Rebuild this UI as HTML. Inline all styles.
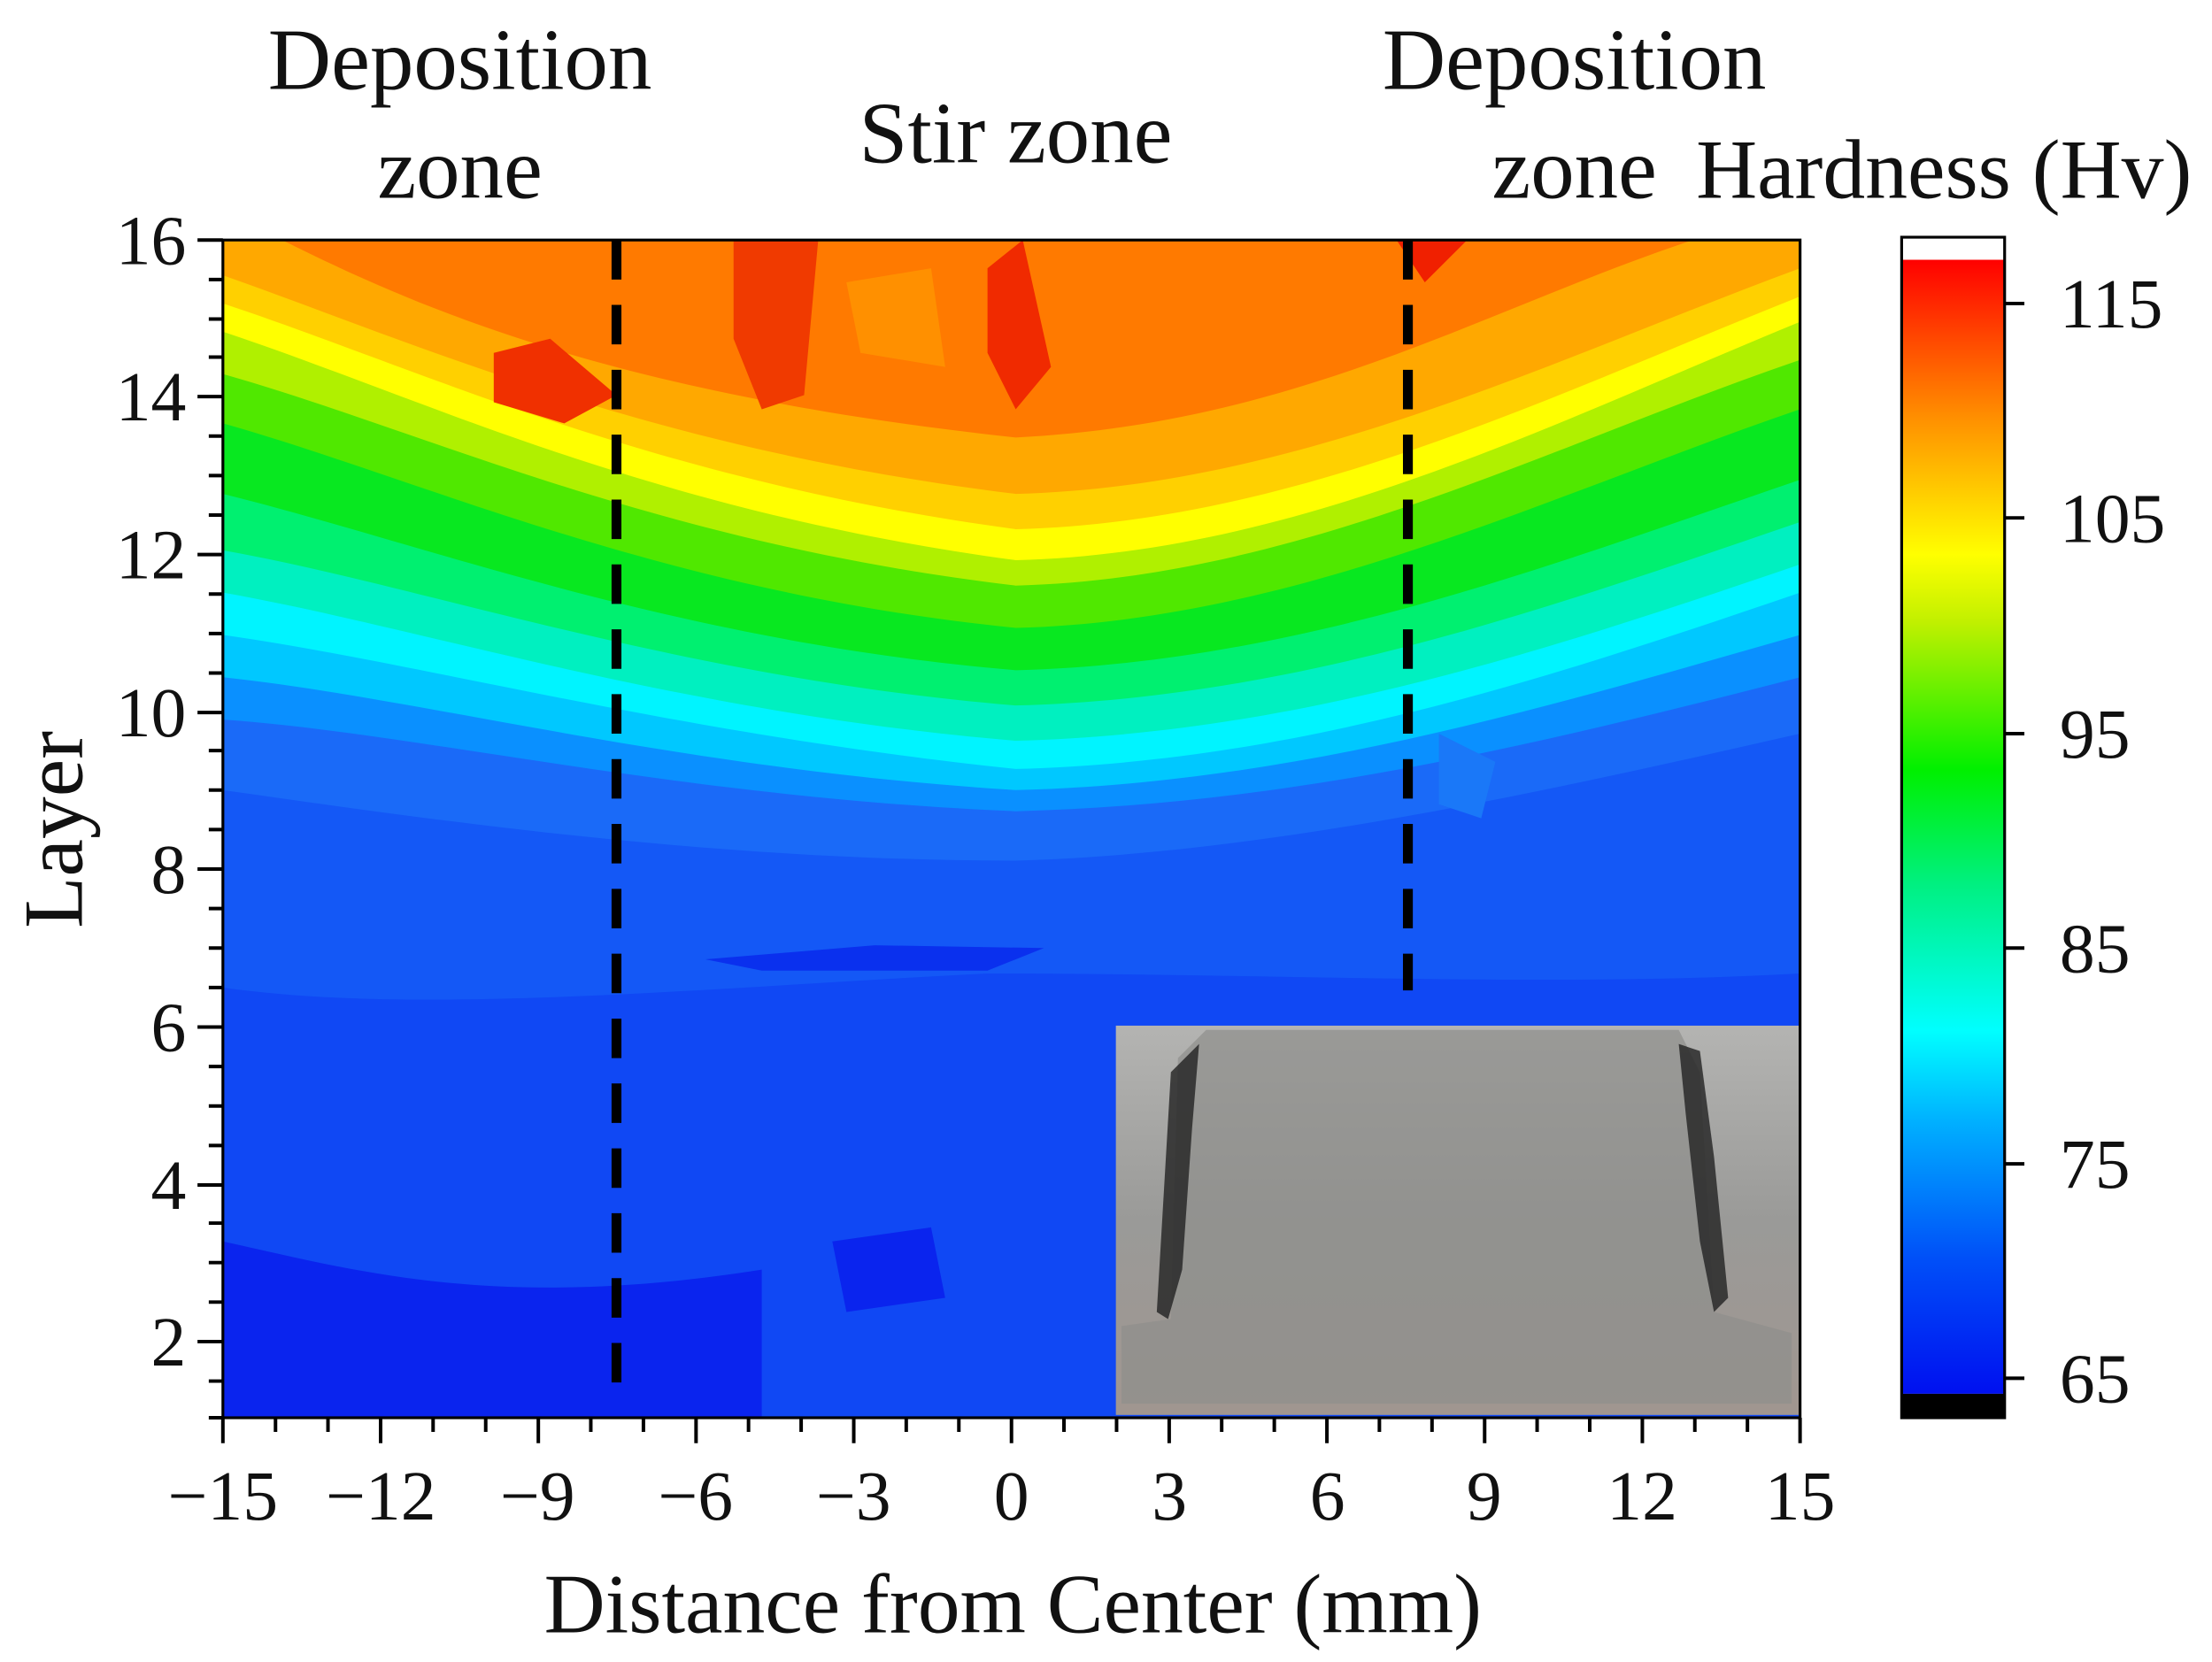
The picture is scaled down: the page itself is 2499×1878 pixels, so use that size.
<!DOCTYPE html>
<html><head><meta charset="utf-8"><style>html,body{margin:0;padding:0;background:#fff}svg{display:block}text{font-family:"Liberation Serif",serif;fill:#111}</style></head>
<body>
<svg width="2499" height="1878" viewBox="0 0 1568 1178" xmlns="http://www.w3.org/2000/svg">
<defs>
<clipPath id="pc"><rect x="158" y="170" width="1118" height="835"/></clipPath>
<linearGradient id="cb" x1="0" y1="1" x2="0" y2="0">
<stop offset="0" stop-color="#0010f0"/>
<stop offset="0.12" stop-color="#0050f8"/>
<stop offset="0.24" stop-color="#00b0ff"/>
<stop offset="0.32" stop-color="#00ffff"/>
<stop offset="0.45" stop-color="#00f080"/>
<stop offset="0.55" stop-color="#00f000"/>
<stop offset="0.68" stop-color="#c0f000"/>
<stop offset="0.74" stop-color="#ffff00"/>
<stop offset="0.86" stop-color="#ff9000"/>
<stop offset="1" stop-color="#ff0000"/>
</linearGradient>
<linearGradient id="ph" x1="0" y1="0" x2="0" y2="1">
<stop offset="0" stop-color="#b4b4b2"/><stop offset="0.5" stop-color="#9a9a98"/><stop offset="1" stop-color="#a09690"/>
</linearGradient>
</defs>
<g clip-path="url(#pc)">
<rect x="158" y="170" width="1118" height="835" fill="#1048f4"/>
<path d="M158,880 C250,900 350,930 540,900 L540,1005 L158,1005 Z" fill="#0a24ee"/>
<path d="M158,700 C300,720 500,700 700,690 C900,690 1100,700 1276,690 L1276,170 L158,170Z" fill="#1458f6"/>
<path d="M158,560 C300,580 500,610 720,610 C900,605 1100,560 1276,520 L1276,170 L158,170Z" fill="#1a6af8"/>
<path d="M158,510 C300,520 480,565 720,575 C920,570 1100,525 1276,480 L1276,170 L158,170Z" fill="#0a90ff"/>
<path d="M158,480 C300,495 480,545 720,560 C920,555 1100,500 1276,450 L1276,170 L158,170Z" fill="#00c8ff"/>
<path d="M158,450 C300,470 480,520 720,545 C920,540 1100,480 1276,420 L1276,170 L158,170Z" fill="#00f4ff"/>
<path d="M158,420 C300,445 480,505 720,525 C920,520 1100,460 1276,400 L1276,170 L158,170Z" fill="#00f0c0"/>
<path d="M158,390 C300,415 480,480 720,500 C920,495 1100,430 1276,370 L1276,170 L158,170Z" fill="#00f070"/>
<path d="M158,350 C300,385 480,455 720,475 C920,470 1100,400 1276,340 L1276,170 L158,170Z" fill="#08e820"/>
<path d="M158,300 C300,340 470,420 720,445 C920,440 1100,350 1276,290 L1276,170 L158,170Z" fill="#50e800"/>
<path d="M158,265 C300,305 465,385 720,415 C920,410 1100,315 1276,255 L1276,170 L158,170Z" fill="#b0f000"/>
<path d="M158,235 C300,282 460,362 720,397 C920,392 1100,300 1276,228 L1276,170 L158,170Z" fill="#ffff00"/>
<path d="M158,215 C300,262 460,340 720,375 C920,370 1100,280 1276,210 L1276,170 L158,170Z" fill="#ffd000"/>
<path d="M158,195 C300,245 460,318 720,350 C920,345 1100,255 1276,190 L1276,170 L158,170Z" fill="#ffa800"/>
<path d="M200,170 C300,220 440,280 720,310 C920,300 1050,220 1200,170 Z" fill="#ff7a00"/>
<path d="M350,250 L390,240 L437,280 L400,300 L350,285Z" fill="#f03000"/>
<path d="M520,170 L580,170 L570,280 L540,290 L520,240Z" fill="#f03a00"/>
<path d="M700,190 L725,170 L745,260 L720,290 L700,250Z" fill="#f02a00"/>
<path d="M600,200 L660,190 L670,260 L610,250Z" fill="#ff9000"/>
<path d="M990,170 L1040,170 L1010,200Z" fill="#f02000"/>
<path d="M500,680 L620,670 L740,672 L700,688 L540,688Z" fill="#0a30ee"/>
<path d="M590,880 L660,870 L670,920 L600,930Z" fill="#0a24ee"/>
<path d="M1020,520 L1060,540 L1050,580 L1020,570Z" fill="#1a78f8"/>
</g>
<rect x="791" y="727" width="485" height="276" fill="url(#ph)"/>
<path d="M795,940 L830,935 L835,750 L855,730 L1190,730 L1205,760 L1215,930 L1270,945 L1270,995 L795,995Z" fill="#8e8e8c" opacity="0.7"/>
<path d="M830,760 L850,740 L845,800 L838,900 L828,935 L820,930Z" fill="#222" opacity="0.8"/>
<path d="M1190,740 L1205,745 L1215,820 L1225,920 L1215,930 L1205,880 L1195,790Z" fill="#222" opacity="0.8"/>
<line x1="437" y1="170" x2="437" y2="985" stroke="#000" stroke-width="7" stroke-dasharray="28,18"/>
<line x1="998" y1="170" x2="998" y2="702" stroke="#000" stroke-width="7" stroke-dasharray="28,18"/>
<rect x="158" y="170" width="1118" height="835" fill="none" stroke="#000" stroke-width="2"/>
<g stroke="#000" stroke-width="2.5" id="ticks">
<path d="M158,1005v18 M195.3,1005v10 M232.5,1005v10 M269.8,1005v18 M307,1005v10 M344.3,1005v10 M381.6,1005v18 M418.8,1005v10 M456.1,1005v10 M493.4,1005v18 M530.6,1005v10 M567.9,1005v10 M605.2,1005v18 M642.4,1005v10 M679.7,1005v10 M717,1005v18 M754.2,1005v10 M791.5,1005v10 M828.8,1005v18 M866,1005v10 M903.3,1005v10 M940.6,1005v18 M977.8,1005v10 M1015.1,1005v10 M1052.4,1005v18 M1089.6,1005v10 M1126.9,1005v10 M1164.2,1005v18 M1201.4,1005v10 M1238.7,1005v10 M1276,1005v18"/>
<path d="M158,1005h-10 M158,979h-10 M158,951h-18 M158,923h-10 M158,895h-10 M158,867h-10 M158,840h-18 M158,812h-10 M158,784h-10 M158,756h-10 M158,728h-18 M158,700h-10 M158,672h-10 M158,644h-10 M158,616h-18 M158,588h-10 M158,560h-10 M158,532h-10 M158,505h-18 M158,477h-10 M158,449h-10 M158,421h-10 M158,393h-18 M158,365h-10 M158,337h-10 M158,309h-10 M158,281h-18 M158,253h-10 M158,226h-10 M158,198h-10 M158,170h-18"/>
</g>
<g font-size="50" text-anchor="end">
<text x="132" y="187">16</text><text x="132" y="298">14</text><text x="132" y="410">12</text><text x="132" y="522">10</text><text x="132" y="633">8</text><text x="132" y="745">6</text><text x="132" y="857">4</text><text x="132" y="968">2</text>
</g>
<g font-size="50" text-anchor="middle">
<text x="158" y="1077">−15</text><text x="270" y="1077">−12</text><text x="381" y="1077">−9</text><text x="493" y="1077">−6</text><text x="605" y="1077">−3</text><text x="717" y="1077">0</text><text x="829" y="1077">3</text><text x="941" y="1077">6</text><text x="1052" y="1077">9</text><text x="1164" y="1077">12</text><text x="1276" y="1077">15</text>
</g>
<text x="718" y="1157" font-size="60" text-anchor="middle">Distance from Center (mm)</text>
<text transform="translate(58,588) rotate(-90)" font-size="60" text-anchor="middle">Layer</text>
<g font-size="62" text-anchor="middle">
<text x="326" y="63">Deposition</text><text x="326" y="140">zone</text>
<text x="720" y="115">Stir zone</text>
<text x="1116" y="63">Deposition</text><text x="1116" y="140">zone</text>
</g>
<text x="1378" y="140" font-size="60" text-anchor="middle">Hardness (Hv)</text>
<rect x="1348" y="168" width="73" height="837" fill="#fff"/>
<rect x="1348" y="184" width="73" height="804" fill="url(#cb)"/>
<rect x="1348" y="988" width="73" height="17" fill="#000"/>
<rect x="1348" y="168" width="73" height="837" fill="none" stroke="#000" stroke-width="2"/>
<g stroke="#000" stroke-width="2.5"><path d="M1421,215h14 M1421,367h14 M1421,520h14 M1421,672h14 M1421,825h14 M1421,977h14"/></g>
<g font-size="50">
<text x="1460" y="232">115</text><text x="1460" y="384">105</text><text x="1460" y="537">95</text><text x="1460" y="689">85</text><text x="1460" y="842">75</text><text x="1460" y="994">65</text>
</g>
</svg>
</body></html>
